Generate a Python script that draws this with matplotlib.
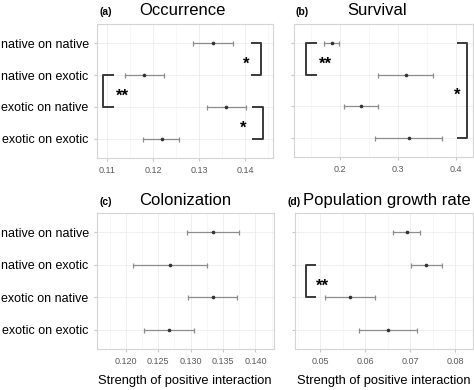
import numpy as np
import matplotlib.pyplot as plt
from matplotlib.ticker import MultipleLocator

plt.rcParams['font.family'] = ['Liberation Sans', 'DejaVu Sans']

# Categories (top to bottom)
groups = ["native on native", "native on exotic", "exotic on native", "exotic on exotic"]

# Mean and interval ends per panel
occ_mean = [0.1330, 0.1181, 0.1359, 0.1218]
occ_low = [0.1286, 0.1138, 0.1317, 0.1177]
occ_high = [0.1373, 0.1223, 0.1402, 0.1255]

surv_mean = [0.186, 0.313, 0.236, 0.318]
surv_low = [0.173, 0.266, 0.207, 0.260]
surv_high = [0.199, 0.360, 0.265, 0.376]

col_mean = [0.1335, 0.1268, 0.1335, 0.1266]
col_low = [0.1295, 0.1211, 0.1296, 0.1228]
col_high = [0.1375, 0.1325, 0.1372, 0.1305]

pgr_mean = [0.0693, 0.0736, 0.0567, 0.0651]
pgr_low = [0.0662, 0.0701, 0.0510, 0.0586]
pgr_high = [0.0723, 0.0771, 0.0623, 0.0716]

occ_ticks = [0.11, 0.12, 0.13, 0.14]
surv_ticks = [0.2, 0.3, 0.4]
col_ticks = [0.120, 0.125, 0.130, 0.135, 0.140]
pgr_ticks = [0.05, 0.06, 0.07, 0.08]

# Significance brackets: (row from, row to, vertical x, tip x, star x, label)
occ_sig = [(2, 3, 0.1092, 0.1114, 0.1134, "**"),
           (1, 2, 0.1434, 0.1412, 0.1402, "*"),
           (3, 4, 0.1439, 0.1414, 0.1396, "*")]
surv_sig = [(1, 2, 0.141, 0.160, 0.174, "**"),
            (1, 4, 0.418, 0.401, 0.401, "*")]
col_sig = []
pgr_sig = [(2, 3, 0.0469, 0.0491, 0.0504, "**")]

W, H = 474, 390
fig = plt.figure(figsize=(W / 100, H / 100), dpi=100)


def px_axes(l, t, r, b):
    return fig.add_axes([l / W, 1 - b / H, (r - l) / W, (b - t) / H])


def panel(ax, mean, low, high, ticks, xlim, minor, sig, fmt, ylabels):
    rows = np.arange(1, len(groups) + 1)
    mean = np.array(mean)
    err = [mean - np.array(low), np.array(high) - mean]
    ax.errorbar(mean, rows, xerr=err, fmt='none', ecolor='#8c8c8c',
                elinewidth=0.9, capsize=1.8, capthick=0.9, zorder=3)
    ax.plot(mean, rows, 'o', ms=1.6, color='#333333', zorder=4)
    for r0, r1, xv, xt, xs, lab in sig:
        ax.plot([xt, xv, xv, xt], [r0, r0, r1, r1], color='#3a3a3a', lw=1.4,
                solid_capstyle='butt', zorder=5)
        ax.text(xs, (r0 + r1) / 2 + 0.3, lab, ha='center', va='baseline',
                fontsize=12, fontweight='bold', color='black', zorder=6)
    ax.set_xlim(*xlim)
    ax.set_ylim(4.6, 0.4)
    ax.set_xticks(ticks)
    ax.set_xticklabels([fmt.format(t) for t in ticks])
    ax.xaxis.set_minor_locator(MultipleLocator(minor))
    ax.set_yticks(rows)
    ax.set_yticklabels(groups if ylabels else [])
    ax.grid(True, which='major', color='#ececec', lw=0.6)
    ax.grid(True, which='minor', axis='x', color='#f4f4f4', lw=0.5)
    ax.set_axisbelow(True)
    for s in ax.spines.values():
        s.set_color('#d4d4d4')
        s.set_linewidth(0.8)
    ax.tick_params(axis='x', which='major', length=2, color='#c8c8c8',
                   labelsize=6.5, labelcolor='#5a5a5a', pad=4)
    ax.tick_params(axis='x', which='minor', length=0)
    ax.tick_params(axis='y', length=2, color='#c8c8c8', labelsize=9,
                   labelcolor='black', pad=4)


ax_a = px_axes(97, 24, 273, 158)
panel(ax_a, occ_mean, occ_low, occ_high, occ_ticks, (0.1078, 0.1460), 0.005,
      occ_sig, "{:.2f}", True)
ax_b = px_axes(294, 24, 473, 157)
panel(ax_b, surv_mean, surv_low, surv_high, surv_ticks, (0.1207, 0.429), 0.05,
      surv_sig, "{:.1f}", False)
ax_c = px_axes(97, 213, 274, 349)
panel(ax_c, col_mean, col_low, col_high, col_ticks, (0.11557, 0.14287), 0.0025,
      col_sig, "{:.3f}", True)
ax_d = px_axes(295, 213, 473, 349)
panel(ax_d, pgr_mean, pgr_low, pgr_high, pgr_ticks, (0.0444, 0.0840), 0.005,
      pgr_sig, "{:.2f}", False)

# Panel tags and titles (figure pixel positions)
tags = [("(a)", 100, 15), ("(b)", 295, 15), ("(c)", 100, 205), ("(d)", 287, 205)]
titles = [("Occurrence", 182, 15), ("Survival", 377, 15),
          ("Colonization", 185, 205), ("Population growth rate", 387, 205)]
for txt, x, y in tags:
    fig.text(x / W, 1 - y / H, txt, fontsize=7.5, fontweight='bold',
             ha='left', va='baseline')
for txt, x, y in titles:
    fig.text(x / W, 1 - y / H, txt, fontsize=12, ha='center', va='baseline')

# x-axis titles under the bottom panels
for x in (185, 384):
    fig.text(x / W, 1 - 381 / H, "Strength of positive interaction",
             fontsize=9.3, ha='center', va='center')

fig.savefig("out.png", dpi=100)
